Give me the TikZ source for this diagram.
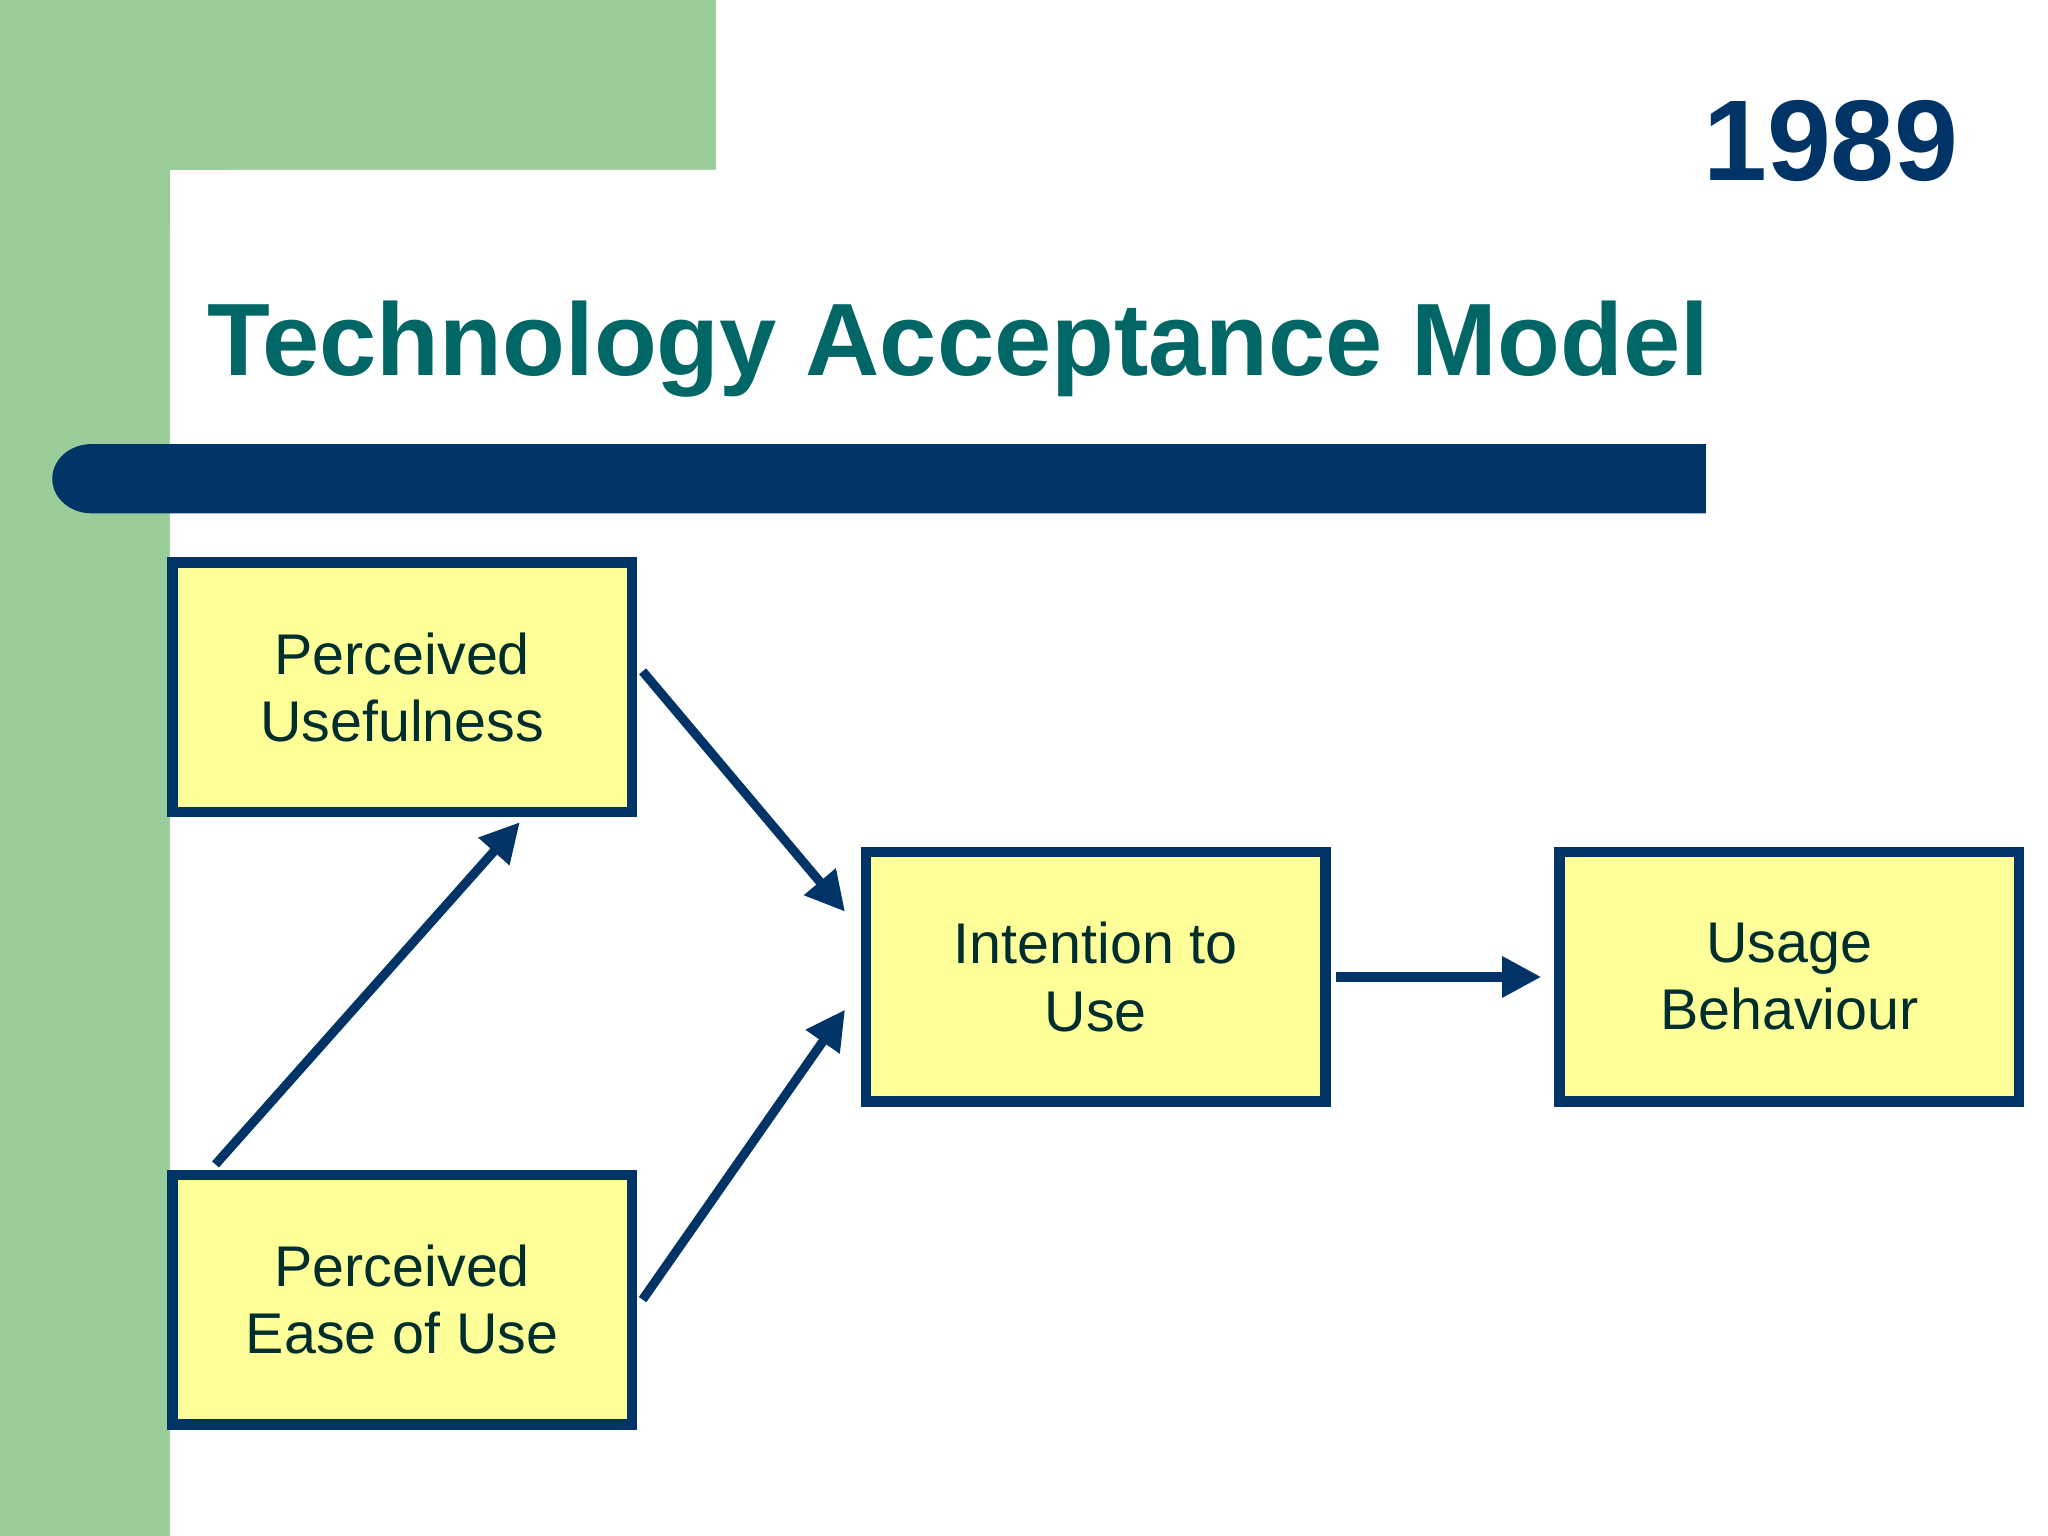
\documentclass[tikz,border=0pt]{standalone}
\usepackage{fontspec}
\setmainfont{Liberation Sans}
\usetikzlibrary{arrows.meta,calc}
\definecolor{bggreen}{RGB}{155,205,155}
\definecolor{navy}{RGB}{0,51,102}
\definecolor{teal2}{RGB}{0,102,102}
\definecolor{boxy}{RGB}{255,255,153}
\definecolor{txt}{RGB}{0,45,45}
\tikzset{
 box/.style={draw=navy,fill=boxy,line width=8*0.01cm,minimum width=352*0.01cm,minimum height=191*0.01cm,
   align=center,text=txt,font=\fontsize{12.5}{14.6}\selectfont,inner sep=0},
 arr/.style={draw=navy,line width=7*0.01cm,-{Triangle[length=0.3cm,width=0.3cm]}}
}
\begin{document}
\begin{tikzpicture}[x=0.01cm,y=-0.01cm]
\useasboundingbox (0,0) rectangle (1568,1176);
\fill[white] (0,0) rectangle (1568,1176);
\fill[bggreen] (0,0) rectangle (548,130) (0,0) rectangle (130,1176);
\fill[white] (130,1176) -- (130,180) arc[start angle=180,end angle=270,radius=50] -- (548,130) -- (548,1176) -- cycle;
\node[anchor=east,text=navy,font=\bfseries\fontsize{25}{30}\selectfont] (yr) at (1512,108) {1989};
\node[anchor=west,text=teal2,font=\bfseries\fontsize{22.4}{27}\selectfont,inner sep=0] (title) at (158,267) {Technology Acceptance Model};
\fill[navy] (70,340) -- (1306,340) -- (1306,393) -- (70,393) arc[start angle=90,end angle=270,x radius=30,y radius=26.5] -- cycle;
\node[box] (pu) at (308,526) {Perceived\\Usefulness};
\node[box] (pe) at (308,995) {Perceived\\Ease of Use};
\node[box] (iu) at (839,748) {Intention to\\Use};
\node[box] (ub) at (1370,748) {Usage\\Behaviour};
\draw[arr] ($(pu.east)+(4,-12)$) -- ($(iu.west)+(-12,-50)$);
\draw[arr] ($(pe.east)+(4,0)$) -- ($(iu.west)+(-12,25)$);
\draw[arr] ($(pe.north west)+(37,-4)$) -- ($(pu.south west)+(270,4)$);
\draw[arr] ($(iu.east)+(4,0)$) -- ($(ub.west)+(-10,0)$);
\end{tikzpicture}
\end{document}
